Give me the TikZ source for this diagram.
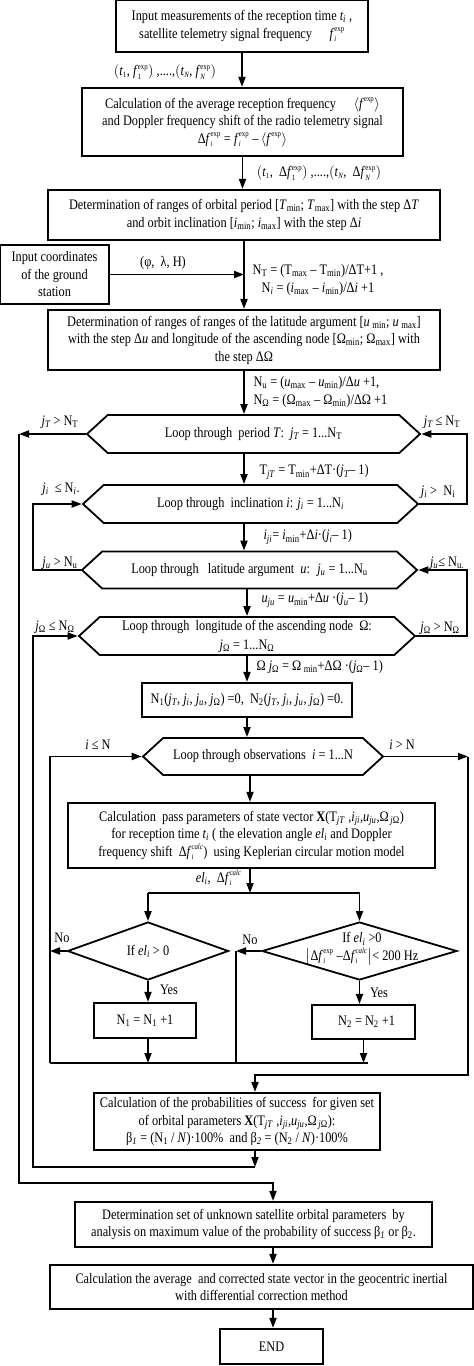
\documentclass[tikz,border=0pt]{standalone}
\usepackage{fontspec}
\setmainfont{Liberation Serif}[FakeStretch=0.85]
\usepackage{amsmath}
\usetikzlibrary{arrows.meta,shapes.geometric,shapes.symbols,calc}
\newcommand{\vt}[1]{\text{\textit{#1}}} % italic variable inside math
\newcommand{\rt}[1]{\text{#1}} % upright text inside math
\newcommand{\sx}[1]{\text{\footnotesize #1}} % small index inside math
\tikzset{every node/.style={font=\fontsize{14.5}{17.5}\selectfont}, % Text size for all nodes
        block/.style={ % Rectangular process boxes
            draw, line width=2.2pt, rectangle, align=center, inner sep=2pt},
        loopbox/.style={ % Hexagonal loop headers
            draw, line width=1.8pt, signal, signal to=west and east,
            signal pointer angle=85, align=center, inner sep=1pt},
        test/.style={ % Decision diamonds
            draw, line width=1.8pt, diamond, inner sep=0pt},
        flow/.style={ % Connectors
            line width=1.8pt},
        >={Triangle[length=10pt,width=7pt]} % Filled arrow heads
        }

\begin{document}
\begin{tikzpicture}[x=1pt,y=-1pt]
    \useasboundingbox (0,0) rectangle (474,1366);

    \node[block, minimum width=252pt, minimum height=52pt] (in1) at (242,26)
        {Input measurements of the reception time \textit{t\textsubscript{i}} ,\\
         satellite telemetry signal frequency \quad $\vt{f}_{\sx{\itshape i}}^{\sx{exp}}$};
    \node[block, minimum width=321pt, minimum height=68pt] (avg) at (242.5,122)
        {Calculation of the average reception frequency \quad $\left\langle \vt{f}^{\sx{exp}}\right\rangle$\\
         and Doppler frequency shift of the radio telemetry signal\\
         $\rt{Δ}\vt{f}_{\sx{\itshape i}}^{\sx{exp}}\rt{ = }\vt{f}_{\sx{\itshape i}}^{\sx{exp}}\rt{ –}\left\langle \vt{f}^{\sx{exp}}\right\rangle$};
    \node[block, minimum width=392pt, minimum height=50pt] (rng) at (244,215)
        {Determination of ranges of orbital period [\textit{T}\textsubscript{min}; \textit{T}\textsubscript{max}] with the step Δ\textit{T}\\
         and orbit inclination [\textit{i}\textsubscript{min}; \textit{i}\textsubscript{max}] with the step Δ\textit{i}};
    \node[block, minimum width=109pt, minimum height=59pt] (gs) at (54.5,274.5)
        {Input coordinates\\ of the ground\\ station};
    \node[block, minimum width=392pt, minimum height=60pt] (rng2) at (244,340)
        {Determination of ranges of ranges of the latitude argument [\textit{u}\,\textsubscript{min}; \textit{u}\,\textsubscript{max}]\\
         with the step Δ\textit{u} and longitude of the ascending node [Ω\textsubscript{min}; Ω\textsubscript{max}] with\\
         the step ΔΩ};

    \node[loopbox, minimum width=333pt, minimum height=38pt] (loopT) at (253.5,434)
        {Loop through \ period \textit{T}: \ \textit{j\textsubscript{T}} = 1...N\textsubscript{T}};
    \node[loopbox, minimum width=335pt, minimum height=38pt] (loopI) at (250.5,504)
        {Loop through \ inclination \textit{i}: \textit{j\textsubscript{i}} = 1...N\textsubscript{\textit{i}}};
    \node[loopbox, minimum width=335pt, minimum height=37pt] (loopU) at (249.5,570)
        {Loop through \ \ latitude argument \ \textit{u}: \ \textit{j\textsubscript{u}} = 1...N\textsubscript{u}};
    \node[loopbox, minimum width=336pt, minimum height=38pt, font=\fontsize{14.5}{19}\selectfont] (loopO) at (247,636)
        {Loop through \ longitude of the ascending node \ Ω:\\ \textit{j}\textsubscript{Ω} = 1...N\textsubscript{Ω}};

    \node[block, minimum width=210pt, minimum height=34pt] (init) at (247,700)
        {N\textsubscript{1}(\textit{j\textsubscript{T}}, \textit{j\textsubscript{i}}, \textit{j\textsubscript{u}}, \textit{j}\textsubscript{Ω}) =0, \
         N\textsubscript{2}(\textit{j\textsubscript{T}}, \textit{j\textsubscript{i}}, \textit{j\textsubscript{u}}, \textit{j}\textsubscript{Ω}) =0.};
    \node[loopbox, minimum width=240pt, minimum height=37pt] (loopObs) at (263,756.5)
        {Loop through observations \ \textit{i} = 1...N};
    \node[block, minimum width=367pt, minimum height=65pt] (calc) at (251.5,835.5)
        {Calculation \ pass parameters of state vector \textbf{X}(T\textsubscript{\textit{jT}} ,\textit{i\textsubscript{ji}},\textit{u\textsubscript{ju}},Ω\textsubscript{\,\textit{j}Ω})\\
         for reception time \textit{t\textsubscript{i}} ( the elevation angle \textit{el\textsubscript{i}} and Doppler\\
         frequency shift \ $\rt{Δ}\vt{f}_{\sx{\itshape i}}^{\sx{\itshape calc}}$) \ using Keplerian circular motion model};

    \node[test, minimum width=161pt, minimum height=58pt] (d1) at (148,951) {};
    \node (d1txt) at (d1) {If \textit{el\textsubscript{i}} > 0};
    \node[test, minimum width=195pt, minimum height=58pt] (d2) at (359.5,951) {};
    \node[align=center] (d2txt) at (362,949)
        {If \textit{el\textsubscript{i}} >0\\ $\left|\rt{Δ}\vt{f}_{\sx{\itshape i}}^{\sx{exp}}\rt{ –Δ}\vt{f}_{\sx{\itshape i}}^{\sx{\itshape calc}}\right|$< 200 Hz};
    \node[block, minimum width=102pt, minimum height=35pt] (n1) at (145,1020.5) {N\textsubscript{1} = N\textsubscript{1} +1};
    \node[block, minimum width=103pt, minimum height=34pt] (n2) at (363.5,1022) {\ \ N\textsubscript{2} = N\textsubscript{2} +1};

    \node[block, minimum width=286pt, minimum height=57pt] (prob) at (237,1121.5)
        {Calculation of the probabilities of success \ for given set\\
         of orbital parameters \textbf{X}(T\textsubscript{\textit{jT}} ,\textit{i\textsubscript{ji}},\textit{u\textsubscript{ju}},Ω\textsubscript{\,\textit{j}Ω}):\\
         β\textsubscript{\textit{1}} = (N\textsubscript{1} / \textit{N})·100\% \ and β\textsubscript{\textit{2}} = (N\textsubscript{2} / \textit{N})·100\%};
    \node[block, minimum width=357pt, minimum height=45pt] (det) at (253.5,1224.5)
        {Determination set of unknown satellite orbital parameters \ by\\
         analysis on maximum value of the probability of success β\textsubscript{\textit{1}} or β\textsubscript{2}.};
    \node[block, minimum width=423pt, minimum height=44pt] (avgsv) at (261.5,1287)
        {Calculation the average \ and corrected state vector in the geocentric inertial\\
         with differential correction method};
    \node[block, minimum width=103pt, minimum height=35pt] (endbox) at (271.5,1346.5) {END};

    % labels on the flow
    \node (lab1) at (165,72)
        {$\left(\vt{t}_{\sx{1}}\rt{, }\vt{f}_{\sx{1}}^{\sx{exp}}\right)$ ,....,$\left(\vt{t}_{\sx{\itshape N}}\rt{, }\vt{f}_{\sx{\itshape N}}^{\sx{exp}}\right)$};
    \node (lab2) at (319,173)
        {$\left(\vt{t}_{\sx{1}}\rt{, \ Δ}\vt{f}_{\sx{1}}^{\sx{exp}}\right)$ ,....,$\left(\vt{t}_{\sx{\itshape N}}\rt{, \ Δ}\vt{f}_{\sx{\itshape N}}^{\sx{exp}}\right)$};
    \node (lab3) at (163,263) {(φ, \ λ, H)};
    \node[align=center] (labNT) at (318,280)
        {N\textsubscript{T} = (T\textsubscript{max} – T\textsubscript{min})/ΔT+1 ,\\
         N\textsubscript{\textit{i}} = (\textit{i}\textsubscript{max} – \textit{i}\textsubscript{min})/Δ\textit{i} +1};
    \node[align=left, anchor=west] (labNu) at (250,392)
        {N\textsubscript{u} = (\textit{u}\textsubscript{max} – \textit{u}\textsubscript{min})/Δ\textit{u} +1,\\
         N\textsubscript{Ω} = (Ω\textsubscript{max} – Ω\textsubscript{min})/ΔΩ +1};
    \node[anchor=west] (labT) at (256,472) {T\textsubscript{\textit{jT}} = T\textsubscript{min}+ΔT·(\textit{j\textsubscript{T}}– 1)};
    \node[anchor=west] (labI) at (260,537) {\textit{i\textsubscript{ji}}= \textit{i}\textsubscript{min}+Δ\textit{i}·(\textit{j\textsubscript{i}}– 1)};
    \node[anchor=west] (labU) at (258,600) {\textit{u\textsubscript{ju}} = \textit{u}\textsubscript{min}+Δ\textit{u} ·(\textit{j\textsubscript{u}}– 1)};
    \node[anchor=west] (labO) at (253,667) {Ω \textit{j}\textsubscript{Ω} = Ω\,\textsubscript{min}+ΔΩ ·(\textit{j}\textsubscript{Ω}– 1)};
    \node[anchor=east] (label) at (245,878) {\textit{el\textsubscript{i}}, \ $\rt{Δ}\vt{f}_{\sx{\itshape i}}^{\sx{\itshape calc}}$};

    \node (exT) at (60,422) {\textit{j\textsubscript{T}} > N\textsubscript{T}};
    \node (inT) at (442,422) {\textit{j\textsubscript{T}} ≤ N\textsubscript{T}};
    \node (inI) at (61,489) {\textit{j\textsubscript{i}} \ ≤ N\textsubscript{\textit{i}}.};
    \node (exI) at (438,492) {\textit{j\textsubscript{i}} > \ N\textsubscript{i}};
    \node (exU) at (60,563) {\textit{j\textsubscript{u}} > N\textsubscript{u}};
    \node (inU) at (447,563) {\textit{j\textsubscript{u}}≤ N\textsubscript{u.}};
    \node (inO) at (55,627) {\textit{j}\textsubscript{Ω} ≤ N\textsubscript{Ω}};
    \node (exO) at (440,628) {\textit{j}\textsubscript{Ω} > N\textsubscript{Ω}};
    \node (inObs) at (98,745) {\textit{i} ≤ N};
    \node (exObs) at (402,745) {\textit{i} > N};
    \node (no1) at (62,938) {No};
    \node (no2) at (250,940) {No};
    \node (yes1) at (169,990) {Yes};
    \node (yes2) at (379,993) {Yes};

    % rails of the loops
    \coordinate (railL) at (19,1183);
    \coordinate (railM) at (33,1167);
    \coordinate (join) at (50,1063);
    \coordinate (mid) at (236,1063);
    \coordinate (railR) at (467,0);
    \coordinate (split) at (250,893);
    \coordinate (obsR) at (468,1075);
    \coordinate (probin) at (255,1075);
    \coordinate (backO) at (255,1167);
    \coordinate (detin) at (273,1183);

    \draw[flow,->] (in1.south) -- (in1.south |- avg.north);
    \draw[flow,->] (avg.south) -- (avg.south |- rng.north);
    \draw[flow,->] (rng.south) -- (rng2.north);
    \draw[flow,->] (gs.east) -- (gs.east -| rng.south);
    \draw[flow,->] (rng2.south) -- (rng2.south |- loopT.north);
    \draw[flow,->] (loopT.south -| rng2.south) -- (loopI.north -| rng2.south);
    \draw[flow,->] (loopI.south -| rng2.south) -- (loopU.north -| rng2.south);
    \draw[flow,->] (loopU.south -| init.north) -- (loopO.north -| init.north);
    \draw[flow,->] (loopO.south -| init.north) -- (init.north);
    \draw[flow,->] (init.south) -- (init.south |- loopObs.north);
    \draw[flow,->] (loopObs.south -| split) -- (calc.north -| split);
    \draw[flow,->] (calc.south -| split) -- (split);
    \draw[flow] (d1.north |- split) -- (d2.north |- split);
    \draw[flow,->] (d1.north |- split) -- (d1.north);
    \draw[flow,->] (d2.north |- split) -- (d2.north);
    \draw[flow,->] (d1.south) -- (d1.south |- n1.north);
    \draw[flow,->] (d2.south) -- (d2.south |- n2.north);
    \draw[flow,->] (d1.west) -- (d1.west -| join);
    \draw[flow,->] (d2.west) -- (d2.west -| mid);
    \draw[flow] (d2.west -| mid) -- (mid);
    \draw[flow,->] (n1.south -| d1.south) -- (d1.south |- join);
    \draw[flow,->] (n2.south) -- (n2.south |- join);
    \draw[flow] (join) -- ($(n2.south |- join)+(4,0)$);
    \draw[flow,->] (join) -- (join |- loopObs.west) -- (loopObs.west);
    \draw[flow,->] (loopObs.east) -- (loopObs.east -| obsR);
    \draw[flow,->] (loopObs.east -| obsR) -- (obsR) -- (probin) -- (probin |- prob.north);
    \draw[flow,->] (probin |- prob.south) -- (backO);
    \draw[flow,->] (backO) -- (railM) -- (railM |- loopO.west) -- (loopO.west);
    \draw[flow,->] (loopO.east) -- (railR |- loopO.east) -- (railR |- loopU.east) -- (loopU.east);
    \draw[flow,->] (loopU.west) -- (railM |- loopU.west) -- (railM |- loopI.west) -- (loopI.west);
    \draw[flow,->] (loopI.east) -- (railR |- loopI.east) -- (railR |- loopT.east) -- (loopT.east);
    \draw[flow,->] (loopT.west) -- (railL |- loopT.west);
    \draw[flow,->] (railL |- loopT.west) -- (railL) -- (detin) -- (detin |- det.north);
    \draw[flow,->] (det.south -| detin) -- (avgsv.north -| detin);
    \draw[flow,->] (avgsv.south -| detin) -- (endbox.north -| detin);
\end{tikzpicture}
\end{document}
